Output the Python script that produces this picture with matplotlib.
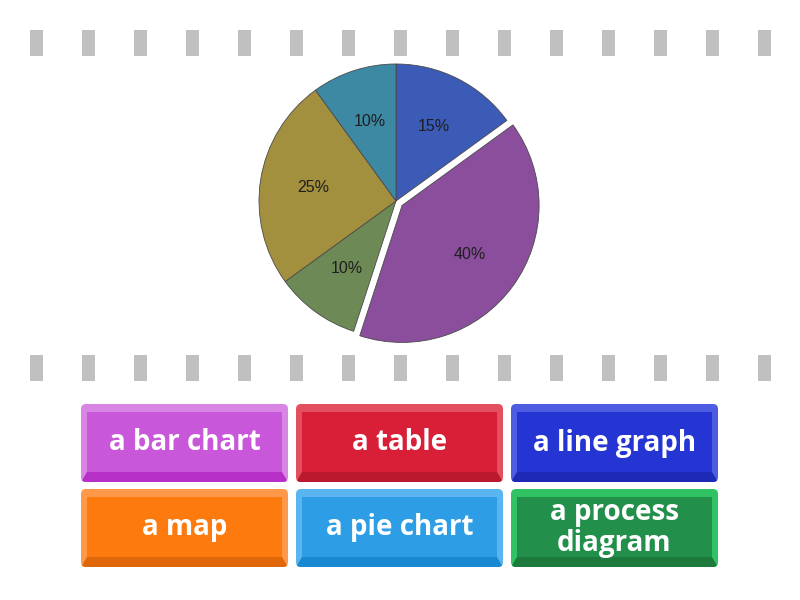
import matplotlib
matplotlib.use("Agg")
import matplotlib.pyplot as plt
from matplotlib.patches import FancyBboxPatch, Rectangle, Polygon

# pie data (clockwise from 12 o'clock)
pie_values = [15, 40, 10, 25, 10]
pie_colors = ['#3c5bb6', '#8b4e9d', '#6d8a56', '#a3903e', '#3d88a3']
pie_explode = [0, 0.055, 0, 0, 0]   # fraction of radius

# answer buttons, row by row
button_labels = ['a bar chart', 'a table', 'a line graph',
                 'a map', 'a pie chart', 'a process\ndiagram']
button_face = ['#c957d9', '#d91f37', '#2535d4', '#fd7a0e', '#2d9ee6', '#22904a']
button_light = ['#d885e3', '#e2505f', '#4d5ce0', '#ff9848', '#5ab5ef', '#30c364']
button_dark = ['#b630c8', '#bb1a2e', '#1c2ab5', '#e0660a', '#1888d0', '#1c7a3d']

H = 600
R = 137


def img_y(y):
    # picture coords (y down) -> axes coords (y up)
    return H - y


fig = plt.figure(figsize=(8, 6), dpi=100)
ax = fig.add_axes([0, 0, 1, 1])

# pie
wedges, texts, autotexts = ax.pie(
    pie_values, colors=pie_colors, explode=[e * R for e in pie_explode],
    startangle=90, counterclock=False, radius=R, center=(396, img_y(201)),
    autopct='%.0f%%', pctdistance=0.61,
    wedgeprops=dict(edgecolor='#4a4a4a', linewidth=0.6),
    textprops=dict(fontsize=11.5, color='#1e1e1e', family='Liberation Sans'))

# grey dashes above and below the pie
for row_y in (30, 355):
    for i in range(15):
        ax.add_patch(Rectangle((30 + 52 * i, img_y(row_y + 26)), 13, 26,
                               facecolor='#c0c0c0', edgecolor='none'))

# buttons
bw, bh = 207, 78
for k, label in enumerate(button_labels):
    col, row = k % 3, k // 3
    x0 = 81 + col * 215
    y0 = 404 + row * 85   # top in picture coords
    yb = img_y(y0 + bh)   # bottom in axes coords
    base = FancyBboxPatch((x0, yb), bw, bh,
                          boxstyle='round,pad=0,rounding_size=5',
                          facecolor=button_light[k], edgecolor='none')
    ax.add_patch(base)
    # bottom bevel
    bot = Polygon([(x0, yb), (x0 + bw, yb), (x0 + bw - 6, yb + 10), (x0 + 6, yb + 10)],
                  closed=True, facecolor=button_dark[k], edgecolor='none')
    ax.add_patch(bot)
    bot.set_clip_path(base)
    # face
    ax.add_patch(Rectangle((x0 + 6, yb + 10), bw - 12, bh - 18,
                           facecolor=button_face[k], edgecolor='none'))
    ax.text(x0 + bw / 2, yb + bh / 2, label, ha='center', va='center',
            color='white', fontsize=20, fontweight='bold',
            family='Open Sans', linespacing=1.1)

ax.set_xlim(0, 800)
ax.set_ylim(0, 600)
ax.set_aspect('equal')
ax.axis('off')

plt.savefig('out.png', dpi=100, facecolor='white')
plt.close('all')
